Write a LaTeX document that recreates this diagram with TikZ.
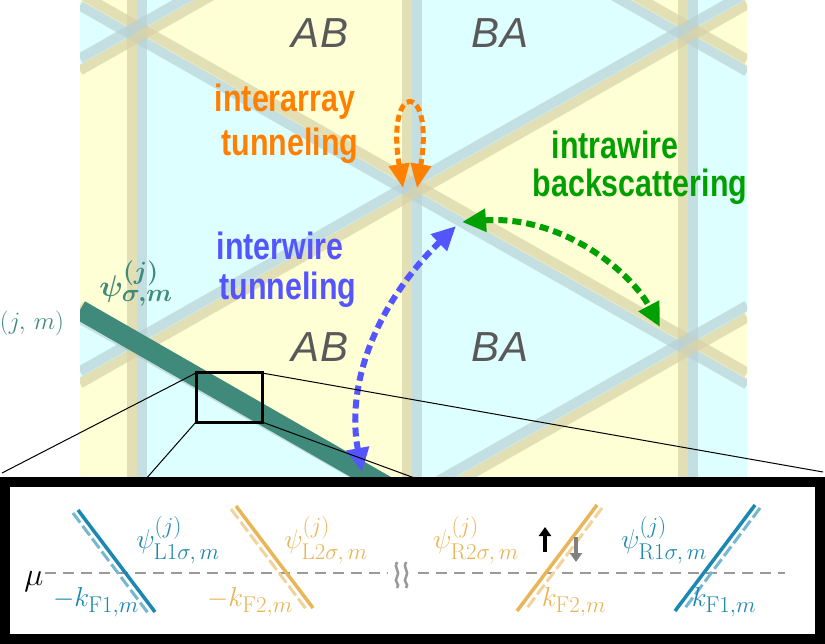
\documentclass[tikz,border=0pt]{standalone}
\usepackage{amsmath}
\usepackage{bm}
\usepackage{fontspec}
\setsansfont{Liberation Sans}
\usetikzlibrary{calc}
\usetikzlibrary{arrows.meta}
\definecolor{bgyel}{HTML}{FFFFD6}
\definecolor{bgcya}{HTML}{DEFFFF}
\definecolor{bandyel}{HTML}{D8D2A8}
\definecolor{bandblu}{HTML}{B8D2D6}
\definecolor{wire}{HTML}{3F8A7A}
\definecolor{kblue}{HTML}{1A88B0}
\definecolor{kyel}{HTML}{E8B658}
\definecolor{orng}{HTML}{FF8000}
\definecolor{grn}{HTML}{00A000}
\definecolor{purp}{HTML}{5555FF}
\newcommand{\rhomb}[2]{(#1-275.5,#2)--(#1,#2-156.5)--(#1+275.5,#2)--(#1,#2+156.5)--cycle}

\begin{document}
\begin{tikzpicture}[x=1pt,y=-1pt,
 yband/.style={bandyel,opacity=.7,line width=10},
 bband/.style={bandblu,opacity=.7,line width=10},
 region/.style={font=\sffamily\itshape\fontsize{42}{46}\selectfont,text=black!65},
 proc/.style={font=\sffamily\bfseries\fontsize{38}{40}\selectfont,xscale=.8,align=center},
 tun/.style={dashed,dash pattern=on 9pt off 5pt,line width=6,-{Triangle[length=22,width=20]}},
 klab/.style={font=\Huge,scale=1.1,transform shape}]
\useasboundingbox (0,0) rectangle (825,644);
% background
\begin{scope}
\clip (80,0) rectangle (747,480);
\fill[bgcya] (80,0) rectangle (137,480);
\fill[bgyel] (137,0) rectangle (412,480);
\fill[bgcya] (412,0) rectangle (688,480);
\fill[bgyel] (688,0) rectangle (747,480);
\begin{scope}\clip (80,0) rectangle (137,480);
\fill[bgyel] \rhomb{137}{-123} \rhomb{137}{190} \rhomb{137}{503};\end{scope}
\begin{scope}\clip (137,0) rectangle (412,480);
\fill[bgcya] \rhomb{137}{-123} \rhomb{137}{190} \rhomb{137}{503};\end{scope}
\begin{scope}\clip (412,0) rectangle (688,480);
\fill[bgyel] \rhomb{688}{-123} \rhomb{688}{190} \rhomb{688}{503};\end{scope}
\begin{scope}\clip (688,0) rectangle (747,480);
\fill[bgcya] \rhomb{688}{-123} \rhomb{688}{190} \rhomb{688}{503};\end{scope}
\foreach \x in {137,412,688} {
 \draw[yband] (\x-5,0) --++(0,480);
 \draw[bband] (\x+5,0) --++(0,480);
}
\foreach \n in {-1,0,1} {
 \draw[yband] (80,{-0.4+313*\n-6}) -- (747,{378.5+313*\n-6});
 \draw[bband] (80,{-0.4+313*\n+6}) -- (747,{378.5+313*\n+6});
}
\foreach \n in {0,1,2} {
 \draw[bband] (80,{64.4+313*\n-6}) -- (747,{-314.5+313*\n-6});
 \draw[yband] (80,{64.4+313*\n+6}) -- (747,{-314.5+313*\n+6});
}
\draw[wire,line width=20] (80,310) -- (390,488);
\end{scope}
\node[region] (ab1) at (320,33) {AB};
\node[region] (ba1) at (500,33) {BA};
\node[region] (ab2) at (320,347) {AB};
\node[region] (ba2) at (500,347) {BA};
\node[wire,font=\Huge,inner sep=1pt] (jm) at (32,323) {$(j,\,m)$};
\node[wire,font=\Huge,scale=1.2,transform shape,inner sep=1pt] (psi) at (136,284) {$\bm{\psi^{(j)}_{\sigma,m}}$};
% processes
\node[proc,text=orng] (ia1) at (285,102) {interarray};
\node[proc,text=orng] (ia2) at (290,146) {tunneling};
\node[proc,text=grn] (iw1) at (615,145) {intrawire};
\node[proc,text=grn] (iw2) at (640,187) {backscattering};
\node[proc,text=purp] (it1) at (280,246) {interwire};
\node[proc,text=purp] (it2) at (288,290) {tunneling};
\coordinate (cross) at (410,188);
\coordinate (oa) at (403,188);
\coordinate (ob) at (417,188);
\coordinate (ga) at (462,222);
\coordinate (gb) at (660,327);
\coordinate (pa) at (456,226);
\coordinate (pb) at (362,472);
\draw[tun,orng,{Triangle[length=24,width=20]}-{Triangle[length=24,width=20]},line width=5,dash pattern=on 7pt off 4pt]
 (oa) .. controls (385,80) and (435,80) .. (ob);
\draw[tun,grn,{Triangle[length=24,width=22]}-{Triangle[length=24,width=22]}]
 (ga) .. controls (560,215) and (630,270) .. (gb);
\draw[tun,purp,{Triangle[length=24,width=22]}-{Triangle[length=24,width=22]}]
 (pa) .. controls (380,300) and (345,380) .. (pb);
% zoom box
\coordinate (z1) at (196,373);
\coordinate (z2) at (262,373);
\coordinate (z3) at (262,422);
\coordinate (z4) at (196,422);
\draw[black,line width=1] (z1) -- (2,473);
\draw[black,line width=1] (z4) -- (145,480);
\draw[black,line width=1] (z2) -- (823,472);
\draw[black,line width=1] (z3) -- (420,480);
\draw[black,line width=3] (z1) -- (z2) -- (z3) -- (z4) -- cycle;
% bottom panel
\draw[black,line width=10,fill=white] (5,482) rectangle (820,639);
\coordinate (mu0) at (45,573);
\coordinate (mu1) at (785,573);
\draw[black!40,line width=2.5,dash pattern=on 11pt off 7pt] (mu0) -- (388,573);
\draw[black!40,line width=2.5,dash pattern=on 11pt off 7pt] (418,573) -- (mu1);
\draw[black!40,line width=2.5] (397,562) .. controls (393,567) and (401,572) .. (397,577) .. controls (393,582) and (401,584) .. (397,588);
\draw[black!40,line width=2.5] (406,562) .. controls (402,567) and (410,572) .. (406,577) .. controls (402,582) and (410,584) .. (406,588);
\node[font=\Huge,scale=1.3,transform shape] (mu) at (34,582) {$\mu$};
\foreach \a/\b/\c/\dx in {78/510/kblue/-5, 236/506/kyel/-5} {
 \draw[\c!60,line width=3,dash pattern=on 12pt off 4pt] ({\a+\dx},{\b+3}) -- ++(75,100);
 \draw[\c,line width=3.5] (\a,\b) -- ++(77,102);
}
\foreach \a/\b/\c/\dx in {755/505/kblue/5, 597/505/kyel/5} {
 \draw[\c!60,line width=3,dash pattern=on 12pt off 4pt] ({\a+\dx},{\b+3}) -- ++(-75,100);
 \draw[\c,line width=3.5] (\a,\b) -- ++(-80,106);
}
\node[klab,text=kblue] (pl1) at (178,540) {$\psi^{(j)}_{\mathrm{L1}\sigma,\,m}$};
\node[klab,text=kyel] (pl2) at (326,540) {$\psi^{(j)}_{\mathrm{L2}\sigma,\,m}$};
\node[klab,text=kyel] (pr2) at (476,540) {$\psi^{(j)}_{\mathrm{R2}\sigma,\,m}$};
\node[klab,text=kblue] (pr1) at (664,540) {$\psi^{(j)}_{\mathrm{R1}\sigma,\,m}$};
\node[klab,text=kblue] (kl1) at (96,602) {$-k_{\mathrm{F1},m}$};
\node[klab,text=kyel] (kl2) at (250,602) {$-k_{\mathrm{F2},m}$};
\node[klab,text=kyel] (kr2) at (574,602) {$k_{\mathrm{F2},m}$};
\node[klab,text=kblue] (kr1) at (724,602) {$k_{\mathrm{F1},m}$};
\coordinate (up0) at (545,552);
\coordinate (up1) at (545,527);
\coordinate (dn0) at (576,537);
\coordinate (dn1) at (576,562);
\draw[black,line width=3.5,-{Triangle[length=9,width=12]}] (up0) -- (up1);
\draw[black!50,line width=3.5,-{Triangle[length=9,width=12]}] (dn0) -- (dn1);
\end{tikzpicture}
\end{document}
